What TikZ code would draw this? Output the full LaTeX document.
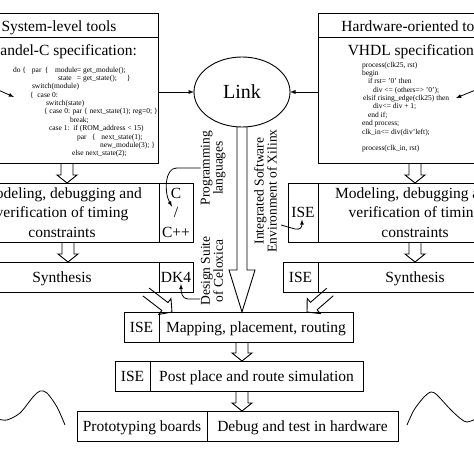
\documentclass[tikz,border=0pt]{standalone}
\usepackage{fontspec}
\setmainfont{Liberation Serif}
\usetikzlibrary{shapes,arrows,positioning,calc}

% hollow block arrow: tail, tip, shaft half width, head half width, head length
\newcommand{\fatarrow}[5]{%
  \coordinate (fa-t) at #1;
  \coordinate (fa-p) at #2;
  \coordinate (fa-h) at ($(fa-p)!#5!(fa-t)$);
  \draw ($(fa-t)!#3!90:(fa-p)$) -- ($(fa-h)!#3!90:(fa-p)$) -- ($(fa-h)!#4!90:(fa-p)$) -- (fa-p)
    -- ($(fa-h)!#4!-90:(fa-p)$) -- ($(fa-h)!#3!-90:(fa-p)$) -- ($(fa-t)!#3!-90:(fa-p)$);
}

\begin{document}
\begin{tikzpicture}[x=1pt, y=-1pt, line width=0.9pt, >=latex,
  every node/.style={inner sep=0pt, outer sep=0pt},
  cell/.style={draw, rectangle, align=center, font=\fontsize{15.5}{19.5}\selectfont},
  oneline/.style={text height=10.5pt, text depth=0.3pt},
  titletext/.style={font=\fontsize{15.5}{19.5}\selectfont, text height=10.5pt, text depth=0.3pt},
  code/.style={anchor=north west, align=left, font=\fontsize{7.5}{8.35}\selectfont},
  sidelabel/.style={rotate=90, align=center, font=\fontsize{13.5}{13}\selectfont}]
\clip (0,0) rectangle (474,474);

% Top panels
\node[cell, minimum width=198pt, minimum height=150pt] (sys) at (59,88) {};
\node[cell, minimum width=198pt, minimum height=150pt] (hw) at (417,88) {};
\draw ([yshift=-24pt]sys.north west) -- ([yshift=-24pt]sys.north east);
\draw ([yshift=-24pt]hw.north west) -- ([yshift=-24pt]hw.north east);
\node[titletext] (systitle) at (59,26) {System-level tools};
\node[titletext] (hwtitle) at (417,26) {Hardware-oriented tools};
\node[titletext] (hcspec) at (63,50) {Handel-C specification:};
\node[titletext] (vhspec) at (413,50) {VHDL specification:};

% Handel-C code
\node[code] (hcode) at (13,67) {%
\makebox[19pt][l]{do \{}\makebox[13pt][l]{par}\makebox[10pt][l]{\{}\makebox[22pt][l]{module}= get\_module();\\
\hspace*{45pt}\makebox[19pt][l]{state}= get\_state();\hspace{10pt}\}\\
\hspace*{19pt}switch(module)\\
\hspace*{17pt}\{\ \ case 0:\\
\hspace*{33pt}switch(state)\\
\hspace*{31pt}\{ case 0: par \{ next\_state(1); reg=0; \}\\
\hspace*{57pt}break;\\
\hspace*{36pt}case 1:\ \ if (ROM\_address < 15)\\
\hspace*{64pt}par\ \ \ \{\ \ \ next\_state(1);\\
\hspace*{87pt}new\_module(3); \}\\
\hspace*{59pt}else next\_state(2);};

% VHDL code
\node[code] (vcode) at (362,62) {%
process(clk25, rst)\\
begin\\
\hspace*{6pt}if rst= '0' then\\
\hspace*{11pt}div <= (others=> '0');\\
\hspace*{1pt}elsif rising\_edge(clk25) then\\
\hspace*{11pt}div<= div + 1;\\
\hspace*{6pt}end if;\\
end process;\\
clk\_in<= div(div'left);\\
\mbox{}\\
process(clk\_in, rst)};

% Link
\node[draw, ellipse, minimum width=96pt, minimum height=70pt, font=\fontsize{20}{24}\selectfont] (link) at (242,92) {Link};

% Left flow
\node[cell, minimum width=194pt, minimum height=59pt] (modl) at (62,212.5) {Modeling, debugging and\\verification of timing\\constraints};
\node[cell, minimum width=34pt, minimum height=59pt] (cpp) at (176,212.5) {C\\/\\C++};
\node[cell, oneline, minimum width=194pt, minimum height=30pt] (synl) at (62,277) {Synthesis};
\node[cell, oneline, minimum width=34pt, minimum height=30pt] (dk) at (176,277) {DK4};

% Right flow
\node[cell, oneline, minimum width=30pt, minimum height=59pt] (iser) at (303,212.5) {ISE};
\node[cell, minimum width=194pt, minimum height=59pt] (modr) at (415,212.5) {Modeling, debugging and\\verification of timing\\constraints};
\node[cell, oneline, minimum width=35pt, minimum height=30pt] (isesyn) at (300.5,277) {ISE};
\node[cell, oneline, minimum width=194pt, minimum height=30pt] (synr) at (415,277) {Synthesis};

% Common flow
\node[cell, oneline, minimum width=35pt, minimum height=30pt] (isemap) at (141.5,327) {ISE};
\node[cell, oneline, minimum width=194pt, minimum height=30pt] (map) at (256,327) {Mapping, placement, routing};
\node[cell, oneline, minimum width=35pt, minimum height=30pt] (isepost) at (132.5,376) {ISE};
\node[cell, oneline, minimum width=213pt, minimum height=30pt] (post) at (256.5,376) {Post place and route simulation};
\node[cell, oneline, minimum width=130pt, minimum height=30pt] (proto) at (142,426) {Prototyping boards};
\node[cell, oneline, minimum width=191pt, minimum height=30pt] (debug) at (302.5,426) {Debug and test in hardware};

% Side labels
\node[sidelabel] (prog) at (213,168) {Programming\\languages};
\node[sidelabel] (xil) at (265.5,191) {Integrated Software\\Environment of Xilinx};
\node[sidelabel] (celox) at (212,271) {Design Suite\\of Celoxica};

% Links into Link
\draw[->] (sys.east |- link.west) -- (link.west);
\draw[->] (hw.west |- link.east) -- (link.east);

% Hollow arrows
\fatarrow{([xshift=8pt]sys.south)}{([xshift=8pt]sys.south |- modl.north)}{6pt}{10pt}{8pt}
\fatarrow{([xshift=6pt]modl.south)}{([xshift=6pt]modl.south |- synl.north)}{6pt}{10pt}{8pt}
\fatarrow{(modr.north |- hw.south)}{(modr.north)}{6pt}{10pt}{8pt}
\fatarrow{(modr.south)}{(synr.north)}{6pt}{10pt}{8pt}
\fatarrow{(link.south)}{(link.south |- map.north)}{5pt}{13pt}{42pt}
\fatarrow{([xshift=-13pt]synl.south east)}{([xshift=13pt]map.north west)}{5pt}{10pt}{9pt}
\fatarrow{([xshift=12pt]synr.south west)}{([xshift=-46pt]map.north east)}{5pt}{10pt}{9pt}
\fatarrow{(link.south |- map.south)}{(link.south |- post.north)}{6pt}{10pt}{8pt}
\fatarrow{(link.south |- post.south)}{(link.south |- proto.north)}{6pt}{10pt}{8pt}

% Callout arrows
\coordinate (dkfrom) at (200,299);
\coordinate (isefrom) at (281,225);
\coordinate (lfrom) at (-4,89);
\coordinate (rfrom) at (478,89);
\draw[->, line width=0.8pt] (prog.north) -- ++(-24,0) .. controls +(-12,0) and +(-8,-14) .. ([shift={(-4,-6)}]cpp.center);
\draw[->, line width=0.8pt] (dkfrom) -- ++(-12,0) .. controls +(-6,0) and +(0,8) .. ([shift={(5,7)}]dk.center);
\draw[->, line width=0.8pt] (isefrom) -- ++(14,4) .. controls +(5,1) and +(0,8) .. ([shift={(-1,7)}]iser.center);
\draw[->, line width=0.8pt] (lfrom) -- ([shift={(1,30)}]hcode.north west);
\draw[->, line width=0.8pt] (rfrom) -- ([shift={(94,36)}]vcode.north west);

% Waves
\draw[line width=0.8pt] plot[smooth] coordinates {(-2,419) (7,420) (20,413) (33,397) (40,391) (47,393) (57,407) (65,425)};
\draw[line width=0.8pt] plot[smooth] coordinates {(407,425) (414,410) (424,397) (431,392) (437,395) (451,410) (461,419) (467,422) (476,419)};
\end{tikzpicture}
\end{document}
